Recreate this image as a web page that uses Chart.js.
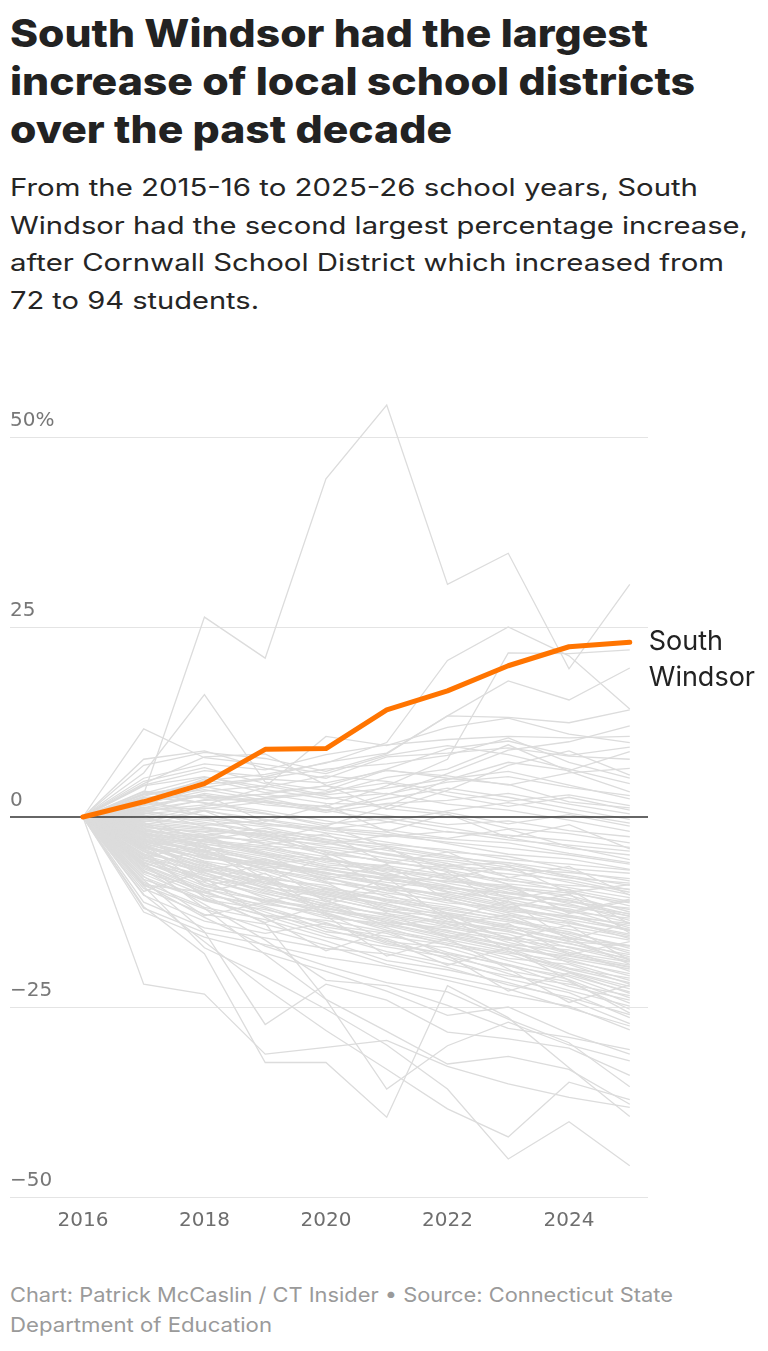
<!DOCTYPE html>
<html>
<head>
<meta charset="utf-8">
<script src="https://cdn.jsdelivr.net/npm/chart.js@4"></script>
<style>
  html, body { margin: 0; padding: 0; background: #fff; }
  body { width: 768px; height: 1351px; position: relative; overflow: hidden; font-family: Inter, "Noto Sans", sans-serif; }
  .fit { display: block; white-space: nowrap; }
  .fit span { display: inline-block; white-space: nowrap; transform-origin: 0 50%; }
  #title { position: absolute; left: 10px; top: 9px; font-weight: 800; font-size: 38px; line-height: 48px; color: #222; }
  #subtitle { position: absolute; left: 10px; top: 169px; font-weight: 400; font-size: 24px; line-height: 37.5px; color: #252525; }
  #footer { position: absolute; left: 10px; top: 1280px; font-size: 20px; line-height: 30px; color: #9a9a9a; }
  #chartWrap { position: absolute; left: 0; top: 390px; width: 768px; height: 843px; }
</style>
</head>
<body>
<div id="title">
  <div class="fit"><span data-w="638">South Windsor had the largest</span></div>
  <div class="fit"><span data-w="685">increase of local school districts</span></div>
  <div class="fit"><span data-w="442">over the past decade</span></div>
</div>
<div id="subtitle">
  <div class="fit"><span data-w="688">From the 2015-16 to 2025-26 school years, South</span></div>
  <div class="fit"><span data-w="738">Windsor had the second largest percentage increase,</span></div>
  <div class="fit"><span data-w="714">after Cornwall School District which increased from</span></div>
  <div class="fit"><span data-w="249">72 to 94 students.</span></div>
</div>
<div id="chartWrap"><canvas id="chart" width="768" height="843"></canvas></div>
<div id="footer">
  <div class="fit"><span data-w="663">Chart: Patrick McCaslin / CT Insider • Source: Connecticut State</span></div>
  <div class="fit"><span data-w="262">Department of Education</span></div>
</div>
<script>
// ---------- DATA ----------
const years = [2016, 2017, 2018, 2019, 2020, 2021, 2022, 2023, 2024, 2025];
const xTickYears = [2016, 2018, 2020, 2022, 2024];
const yTickValues = [-50, -25, 0, 25, 50];
const highlightName = ["South", "Windsor"];
const southWindsor = [0, 2.0, 4.4, 8.9, 9.0, 14.1, 16.6, 19.9, 22.4, 23.0];

const upperDistricts = [
  [0, 3.0, 26.3, 20.9, 44.5, 54.2, 30.6, 34.7, 19.5, 30.6],
  [0, 5.8, 16.1, 4.6, 3.5, 6.2, 5.1, 4.3, 2.0, 1.2],
  [0, 11.6, 7.8, 6.9, 5.7, 8.1, 9.4, 8.2, 6.3, 4.4],
  [0, 3.1, 5.2, 4.0, 10.6, 9.4, 11.8, 13.0, 10.9, 9.8],
  [0, 6.8, 8.5, 7.7, 6.0, 8.3, 13.3, 17.9, 15.4, 19.6],
  [0, 4.2, 6.1, 5.3, 7.2, 8.4, 13.3, 13.1, 12.4, 14.1],
  [0, 2.7, 4.8, 5.6, 7.1, 9.8, 20.6, 25.0, 21.2, 14.2],
  [0, 1.2, 3.1, 2.0, 1.4, 4.1, 7.6, 21.6, 21.5, 22.0],
  [0, 5.1, 7.0, 6.2, 8.2, 9.5, 10.2, 10.6, 10.4, 10.6],
  [0, 3.0, 4.3, 5.1, 6.3, 7.0, 8.1, 10.4, 7.2, 5.1],
  [0, 2.1, 5.0, 3.2, 4.1, 6.3, 9.0, 10.0, 8.1, 9.2],
  [0, 1.0, 2.2, 2.4, 3.1, 5.2, 6.3, 9.5, 6.0, 3.3],
  [0, 7.6, 8.7, 6.4, 5.1, 7.9, 8.4, 9.1, 8.0, 7.6],
  [0, 4.4, 7.9, 8.3, 4.2, 1.0, 3.5, 6.8, 8.7, 5.5],
  [0, 2.5, 3.6, 2.2, 0.8, 2.9, 5.7, 8.8, 9.9, 12.0],
  [0, 3.3, 1.8, 0.5, -1.2, 1.4, 4.9, 7.2, 6.1, 8.6],
  [0, 0.8, 1.6, 3.9, 5.4, 4.7, 3.3, 2.1, 2.9, 1.5],
  [0, 4.7, 6.5, 4.4, 2.9, 3.8, 5.0, 6.0, 4.2, 2.4]
];

const middleDistricts = [
  [0, 1.5, 2.8, 1.9, 0.6, 1.8, 2.2, 3.1, 1.7, 0.4],
  [0, -0.8, -1.5, -2.9, -3.6, -2.4, -3.3, -4.1, -5.0, -6.2],
  [0, -2.1, -3.9, -5.2, -6.8, -8.3, -9.1, -10.4, -11.8, -13.0],
  [0, -1.2, -2.6, -3.1, -4.9, -5.7, -7.2, -8.8, -9.6, -11.1],
  [0, 0.5, -0.7, -1.9, -2.5, -3.8, -5.1, -6.3, -7.7, -9.0],
  [0, -3.4, -5.8, -7.1, -9.5, -10.2, -12.6, -13.8, -15.1, -17.3],
  [0, -4.2, -7.3, -9.8, -11.4, -12.9, -14.1, -16.5, -18.2, -19.7],
  [0, -2.8, -4.4, -6.9, -8.1, -9.7, -11.3, -12.0, -13.9, -15.4],
  [0, -1.6, -3.3, -4.0, -5.2, -7.9, -8.4, -9.0, -10.7, -12.2],
  [0, -5.1, -8.2, -10.4, -12.8, -14.6, -16.9, -18.1, -20.4, -22.6],
  [0, -6.3, -9.4, -11.8, -14.2, -15.3, -17.8, -19.6, -21.0, -23.8],
  [0, -0.3, -1.1, -0.4, -1.8, -2.6, -1.9, -3.0, -3.7, -4.5],
  [0, 1.8, 3.4, 4.1, 2.7, 1.1, 0.3, -1.5, -2.2, -3.4],
  [0, 2.6, 1.9, 0.8, -0.5, -1.7, -2.8, -1.6, -3.9, -5.6],
  [0, -2.4, -4.9, -6.2, -5.4, -7.3, -9.8, -11.5, -12.3, -14.6],
  [0, -3.9, -6.1, -8.8, -10.1, -11.7, -13.4, -15.9, -16.6, -18.8],
  [0, -7.5, -10.8, -12.2, -13.9, -16.4, -17.2, -19.5, -22.3, -24.1],
  [0, -4.8, -8.9, -11.1, -13.3, -14.0, -15.6, -17.3, -19.9, -21.2],
  [0, -1.9, -2.7, -4.6, -6.3, -6.9, -8.7, -10.1, -10.9, -12.8],
  [0, -0.6, 0.9, -0.8, -2.1, -3.3, -4.6, -5.2, -6.8, -7.4],
  [0, -3.1, -5.5, -5.9, -7.7, -9.0, -10.3, -11.9, -13.2, -14.0],
  [0, -2.2, -3.0, -3.8, -4.4, -6.0, -6.7, -7.5, -8.3, -9.9],
  [0, -8.6, -11.9, -13.5, -15.8, -17.1, -18.4, -20.2, -21.7, -25.3],
  [0, -5.6, -7.7, -9.2, -10.6, -12.4, -13.1, -14.7, -16.0, -16.9],
  [0, -1.0, -1.7, -2.5, -3.9, -4.8, -6.1, -7.9, -9.3, -10.6],
  [0, 0.9, 1.2, 0.4, -0.9, -0.2, -1.4, -2.7, -4.1, -5.0],
  [0, -3.7, -6.6, -8.1, -9.0, -11.2, -12.1, -13.6, -14.8, -16.2],
  [0, -4.5, -6.9, -9.4, -11.9, -13.6, -15.2, -16.8, -17.5, -20.3],
  [0, -2.6, -4.1, -5.5, -7.4, -8.6, -9.5, -11.1, -12.9, -14.3],
  [0, -6.8, -9.9, -12.5, -15.1, -16.0, -18.7, -21.3, -23.1, -26.4],
  [0, 1.3, 0.2, -1.1, -1.6, -0.7, 0.8, 1.9, 0.5, -0.8],
  [0, -1.4, -2.0, -3.6, -5.8, -6.4, -7.6, -8.2, -9.8, -11.7],
  [0, -5.9, -9.1, -10.9, -12.0, -13.8, -14.9, -17.0, -18.8, -20.9],
  [0, -3.0, -4.7, -7.0, -8.7, -9.3, -10.9, -12.6, -14.4, -15.8],
  [0, -9.4, -12.8, -14.1, -16.3, -18.9, -20.1, -21.8, -24.0, -27.2],
  [0, -2.0, -3.6, -4.3, -6.0, -7.1, -8.0, -9.6, -11.4, -13.6],
  [0, 0.2, -0.4, -1.3, -2.9, -4.4, -5.5, -6.6, -8.0, -8.7],
  [0, -4.0, -5.2, -6.6, -7.3, -8.9, -10.6, -12.2, -13.0, -15.0],
  [0, -7.1, -10.3, -11.5, -12.6, -14.9, -16.3, -18.6, -19.4, -22.0],
  [0, -1.7, -3.8, -5.9, -7.8, -10.5, -11.6, -13.3, -15.5, -17.9],
  [0, 2.2, 2.9, 1.6, 0.9, -0.6, -2.0, -2.4, -3.1, -4.0],
  [0, -0.9, -2.3, -3.4, -4.1, -5.4, -6.5, -7.0, -8.6, -10.2],
  [0, -3.3, -5.0, -7.5, -9.8, -11.0, -12.8, -14.2, -16.3, -18.4],
  [0, -5.3, -8.0, -9.6, -11.1, -13.0, -14.5, -15.4, -17.8, -19.1],
  [0, -11.2, -14.6, -15.9, -17.3, -18.0, -19.8, -22.1, -23.7, -26.0],
  [0, -2.9, -4.6, -6.4, -6.9, -8.0, -9.9, -10.8, -12.5, -13.3],
  [0, -6.0, -8.6, -11.3, -13.0, -14.3, -16.1, -17.7, -20.0, -21.8],
  [0, -1.3, -1.9, -2.2, -3.4, -5.0, -5.8, -6.9, -7.3, -8.1],
  [0, -4.6, -7.0, -8.5, -9.9, -11.5, -13.0, -14.4, -15.3, -17.0],
  [0, -3.6, -6.3, -8.0, -10.7, -12.3, -14.0, -15.8, -18.0, -19.5],
  [0, 0.4, 1.1, 2.0, 1.3, 0.2, -1.0, -0.5, -1.8, -2.6],
  [0, -2.5, -5.1, -6.8, -8.5, -10.0, -11.0, -12.9, -13.7, -16.0],
  [0, -7.9, -11.0, -12.9, -14.5, -15.7, -16.8, -18.9, -20.8, -23.0],
  [0, -0.2, -0.9, -2.0, -3.0, -3.6, -4.3, -5.6, -6.2, -7.0],
  [0, -5.0, -7.4, -10.0, -12.1, -13.2, -15.0, -16.2, -17.1, -18.6],
  [0, -12.0, -15.2, -16.8, -18.5, -19.7, -21.5, -23.4, -24.9, -28.0],
  [0, -3.8, -6.8, -9.0, -11.6, -13.9, -14.6, -16.0, -19.2, -21.5],
  [0, 1.9, 0.8, -0.3, -1.4, -2.0, -3.5, -4.9, -5.5, -6.9],
  [0, -2.3, -4.0, -6.1, -7.0, -8.2, -9.4, -10.0, -11.2, -12.0],
  [0, -6.6, -10.0, -12.0, -14.8, -16.8, -18.0, -20.6, -22.8, -24.9],
  [0, -1.1, -2.8, -4.8, -6.6, -7.5, -9.0, -11.3, -12.1, -13.9],
  [0, -4.1, -6.0, -7.9, -9.3, -10.8, -11.9, -13.1, -14.0, -15.6],
  [0, -8.2, -10.9, -13.0, -15.4, -17.7, -19.3, -20.9, -22.0, -23.5],
  [0, 0.7, -0.2, -0.9, -1.5, -2.3, -2.9, -3.4, -4.8, -6.0],
  [0, -2.7, -3.5, -5.0, -6.5, -7.7, -8.5, -9.2, -10.0, -11.3],
  [0, -5.7, -8.3, -10.1, -11.7, -12.7, -13.8, -15.1, -16.7, -18.1],
  [0, -3.5, -5.4, -6.3, -8.0, -9.6, -10.1, -11.7, -13.5, -14.9],
  [0, -9.0, -12.1, -14.8, -16.9, -19.4, -21.0, -22.6, -25.1, -27.5],
  [0, 3.4, 2.5, 3.0, 1.8, 1.6, 0.6, -0.9, 0.3, -1.2],
  [0, -1.5, -3.1, -4.1, -5.6, -6.8, -7.8, -9.4, -10.3, -12.5],
  [0, -6.4, -9.7, -12.9, -13.6, -15.1, -16.6, -17.9, -19.0, -20.6],
  [0, -4.3, -7.6, -10.7, -12.4, -13.4, -15.5, -16.9, -18.6, -20.0],
  [0, -2.0, -5.3, -6.0, -7.3, -9.1, -10.5, -12.4, -13.1, -14.8],
  [0, -0.5, -1.4, -2.7, -4.6, -5.9, -7.0, -8.4, -9.0, -9.5],
  [0, -10.3, -13.7, -15.3, -14.0, -16.6, -18.0, -19.4, -21.4, -24.5],
  [0, -3.2, -4.5, -5.7, -7.5, -8.0, -9.2, -10.6, -11.6, -12.7],
  [0, -5.4, -7.1, -8.7, -9.6, -10.9, -12.3, -13.5, -15.8, -17.6],
  [0, 1.0, -1.3, -2.4, -3.2, -4.0, -5.3, -6.0, -7.1, -8.4],
  [0, -7.3, -9.5, -11.0, -12.3, -14.1, -15.8, -17.4, -18.3, -19.8],
  [0, -2.4, -3.2, -4.9, -5.5, -6.6, -8.2, -9.9, -11.0, -13.1],
  [0, 4.1, 5.3, 3.6, 2.4, 3.1, 1.7, 0.9, -0.4, -1.9],
  [0, -3.0, -5.9, -8.3, -10.4, -11.4, -13.7, -14.9, -17.2, -19.0],
  [0, -1.8, -2.4, -1.5, -3.3, -4.9, -6.4, -6.0, -7.9, -9.6],
  [0, -4.9, -6.4, -9.3, -10.2, -12.1, -12.7, -14.6, -16.4, -17.0],
  [0, 2.9, 4.0, 2.6, 3.3, 4.5, 2.8, 1.4, 2.6, 0.9],
  [0, 0.6, 2.3, 3.0, 4.1, 3.0, 4.6, 5.3, 3.9, 2.8],
  [0, 1.6, 3.9, 5.0, 4.5, 6.1, 5.4, 4.2, 5.8, 6.4],
  [0, -0.4, 1.4, 2.5, 0.9, 2.4, 3.8, 2.6, 1.1, -0.3],
  [0, -6.5, -4.2, -8.8, -5.1, -9.7, -7.3, -12.0, -10.1, -15.3],
  [0, -2.0, -8.5, -6.0, -11.2, -8.0, -13.5, -11.0, -16.2, -13.9],
  [0, -9.8, -7.1, -5.5, -8.3, -6.2, -10.9, -9.1, -12.5, -10.8],
  [0, -4.4, -10.6, -13.9, -11.5, -9.3, -12.8, -16.1, -14.2, -18.9],
  [0, 0.3, -3.6, -8.2, -10.9, -14.5, -13.1, -17.6, -20.3, -22.3],
  [0, -5.5, -3.0, -1.8, -4.7, -7.8, -6.1, -8.9, -12.7, -11.0],
  [0, -3.6, -9.1, -7.4, -12.7, -16.2, -19.5, -17.2, -21.5, -25.8],
  [0, -1.1, 0.8, -2.3, -5.0, -4.1, -6.9, -10.8, -9.5, -14.1],
  [0, -7.8, -13.0, -11.2, -9.4, -12.0, -14.4, -12.8, -15.9, -19.4],
  [0, 2.4, 0.1, -3.7, -2.2, -6.1, -4.6, -8.0, -6.5, -10.3],
  [0, -4.0, -2.5, -4.9, -8.6, -12.6, -15.9, -14.0, -18.1, -16.4],
  [0, -6.1, -8.0, -13.2, -17.6, -15.0, -18.2, -22.9, -20.5, -23.2],
  [0, -0.7, -4.5, -3.0, -1.2, -3.9, -8.1, -6.4, -9.9, -8.9],
  [0, 1.1, 2.9, -0.6, 1.6, -1.9, 0.4, -2.7, -1.0, -4.2],
  [0, -8.9, -9.9, -8.1, -13.0, -18.3, -16.0, -20.0, -24.4, -22.1]
];

const lowerDistricts = [
  [0, -22.0, -23.3, -31.2, -30.3, -29.4, -32.8, -35.1, -36.9, -38.2],
  [0, -11.8, -18.0, -32.3, -32.3, -39.5, -22.2, -26.4, -33.0, -39.4],
  [0, -8.3, -15.1, -27.3, -22.0, -24.1, -28.3, -29.2, -30.4, -34.0],
  [0, -10.2, -16.4, -22.5, -28.1, -33.2, -38.4, -42.1, -34.9, -37.2],
  [0, -9.1, -17.2, -21.0, -25.3, -30.0, -35.8, -45.0, -40.1, -45.9],
  [0, -6.2, -12.0, -18.1, -24.0, -28.2, -32.5, -31.5, -33.2, -37.8],
  [0, -5.1, -10.3, -14.0, -24.0, -35.8, -30.1, -27.0, -30.0, -32.1],
  [0, -7.0, -11.5, -16.2, -21.5, -22.2, -24.8, -27.8, -29.0, -30.6],
  [0, -12.5, -15.8, -17.9, -20.3, -22.9, -26.1, -25.0, -28.5, -31.2],
  [0, -8.8, -13.2, -17.0, -19.6, -21.8, -23.0, -26.6, -29.7, -35.5]
];

// ---------- TEXT FITTING (match line widths of the original) ----------
function fitText() {
  document.querySelectorAll('.fit span').forEach(el => {
    el.style.transform = 'none';
    const target = parseFloat(el.dataset.w);
    const w0 = el.getBoundingClientRect().width;
    el.style.transform = 'scaleX(' + (target / w0) + ')';
  });
}

// ---------- CHART ----------
const grayColor = '#dcdcdc';
const toPoints = arr => arr.map((v, i) => ({ x: years[i], y: v }));
const grayRows = [...upperDistricts, ...middleDistricts, ...lowerDistricts];

const datasets = [{
  label: 'South Windsor',
  data: toPoints(southWindsor),
  borderColor: '#ff7400',
  borderWidth: 5,
  borderCapStyle: 'round',
  borderJoinStyle: 'round',
  pointRadius: 0,
  clip: false
}];
grayRows.forEach((row, i) => datasets.push({
  label: 'District ' + (i + 1),
  data: toPoints(row),
  borderColor: grayColor,
  borderWidth: 1.3,
  pointRadius: 0,
  clip: false
}));

const overlayPlugin = {
  id: 'overlay',
  beforeDatasetDraw(chart, args) {
    if (args.index !== 0) return;
    const { ctx, chartArea, scales } = chart;
    const y0 = scales.y.getPixelForValue(0);
    ctx.save();
    ctx.strokeStyle = '#333';
    ctx.lineWidth = 1.5;
    ctx.beginPath();
    ctx.moveTo(chartArea.left, y0);
    ctx.lineTo(chartArea.right, y0);
    ctx.stroke();
    ctx.restore();
  },
  afterDatasetsDraw(chart) {
    const meta = chart.getDatasetMeta(0);
    const last = meta.data[meta.data.length - 1];
    const ctx = chart.ctx;
    ctx.save();
    ctx.fillStyle = '#222';
    ctx.font = '400 27px Inter, "Noto Sans", sans-serif';
    ctx.textBaseline = 'middle';
    ctx.textAlign = 'left';
    ctx.fillText(highlightName[0], last.x + 19, last.y);
    ctx.fillText(highlightName[1], last.x + 19, last.y + 36);
    ctx.restore();
  }
};

function draw() {
  fitText();
  new Chart(document.getElementById('chart'), {
    type: 'line',
    data: { datasets },
    options: {
      responsive: false,
      animation: false,
      devicePixelRatio: 1,
      events: [],
      layout: { padding: { top: 47, left: 10, right: 120, bottom: 0 } },
      plugins: { legend: { display: false }, tooltip: { enabled: false } },
      elements: { line: { tension: 0 } },
      scales: {
        x: {
          type: 'linear',
          min: 2014.8,
          max: 2025.3,
          border: { display: false },
          grid: { display: false, drawTicks: false },
          afterBuildTicks: s => { s.ticks = xTickYears.map(v => ({ value: v })); },
          afterFit: s => { s.height = 36; },
          ticks: {
            padding: 12,
            maxRotation: 0,
            autoSkip: false,
            color: '#6e6e6e',
            font: { family: '"DejaVu Sans"', size: 20 },
            callback: v => String(v)
          }
        },
        y: {
          min: -50,
          max: 50,
          border: { display: false },
          afterBuildTicks: s => { s.ticks = yTickValues.map(v => ({ value: v })); },
          afterFit: s => { s.width = 0; },
          grid: {
            drawTicks: false,
            color: ctx => ctx.tick && ctx.tick.value === 0 ? 'rgba(0,0,0,0)' : '#e4e4e4',
            lineWidth: 1
          },
          ticks: {
            mirror: true,
            padding: 0,
            labelOffset: -16,
            color: '#777',
            font: { family: '"DejaVu Sans"', size: 20 },
            callback: v => v === 50 ? '50%' : (v < 0 ? '\u2212' + Math.abs(v) : String(v))
          }
        }
      }
    },
    plugins: [overlayPlugin]
  });
}

if (document.fonts && document.fonts.ready) {
  document.fonts.ready.then(draw);
} else {
  draw();
}
</script>
</body>
</html>
